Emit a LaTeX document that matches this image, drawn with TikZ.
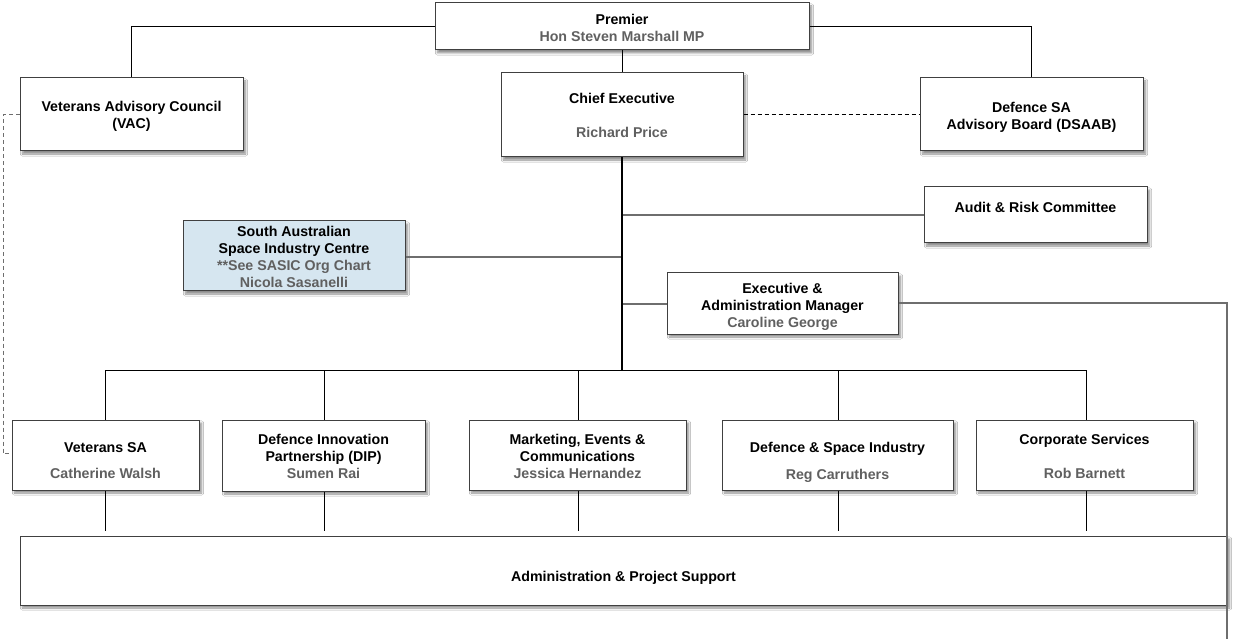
\documentclass[tikz,border=0pt]{standalone}
\usepackage{fontspec}
\setmainfont{Liberation Sans}
\usetikzlibrary{shadows.blur}
\definecolor{bordc}{RGB}{64,64,64}
\definecolor{namec}{RGB}{96,96,96}
\definecolor{linec}{RGB}{110,110,110}
\definecolor{sasicfill}{RGB}{214,230,240}
\begin{document}
\begin{tikzpicture}[x=1pt,y=-1pt,
  box/.style={draw=bordc, line width=1pt, fill=white, inner sep=0pt,
    blur shadow={shadow xshift=2.5pt, shadow yshift=-3pt, shadow blur steps=6, shadow opacity=45}},
  txt/.style={align=center, inner sep=0pt, font=\fontsize{14.2}{17}\selectfont\bfseries},
  conn/.style={line width=1pt, black},
  gconn/.style={line width=1.2pt, linec},
  dconn/.style={line width=1pt, black, dash pattern=on 4pt off 3pt},
  gdconn/.style={line width=1pt, linec, dash pattern=on 4pt off 3pt},
  trunk/.style={line width=2pt, black}]
\newcommand{\nmline}[1]{\strut{\color{namec}#1}}
\useasboundingbox (0,0) rectangle (1243,639);
\fill[white] (0,0) rectangle (1243,639);

% boxes
\node[box, minimum width=374, minimum height=47] (prem) at (622,26.5) {};
\node[box, minimum width=223, minimum height=73] (vac) at (131.5,114.5) {};
\node[box, minimum width=242, minimum height=84] (ce) at (622,115) {};
\node[box, minimum width=223, minimum height=73] (dsaab) at (1031.5,114.5) {};
\node[box, minimum width=223, minimum height=56] (audit) at (1035.5,215) {};
\node[box, fill=sasicfill, minimum width=222, minimum height=70] (sasic) at (294,256) {};
\node[box, minimum width=231, minimum height=61] (exec) at (782.5,303.5) {};
\node[box, minimum width=187, minimum height=70] (vsa) at (105.5,455) {};
\node[box, minimum width=203, minimum height=71] (dip) at (323.5,455.5) {};
\node[box, minimum width=217, minimum height=70] (mkt) at (577.5,455) {};
\node[box, minimum width=231, minimum height=70] (dsi) at (837.5,455) {};
\node[box, minimum width=217, minimum height=70] (corp) at (1084.5,455) {};
\node[box, minimum width=1207, minimum height=69] (aps) at (623.5,570.5) {};

% texts
\node[txt] (prem-t) at ([yshift=-2.7pt]prem.center)
  {\strut Premier\\\nmline{Hon Steven Marshall MP}};
\node[txt] (vac-t) at ([yshift=-1.7pt]vac.center)
  {\strut Veterans Advisory Council\\\strut(VAC)};
\node[txt] (ce-t) at ([yshift=-1.7pt]ce.center)
  {\strut Chief Executive\\[17pt]\nmline{Richard Price}};
\node[txt] (dsaab-t) at ([yshift=-2.7pt]dsaab.center)
  {\strut Defence SA\\\strut Advisory Board (DSAAB)};
\node[txt] (audit-t) at ([yshift=6.3pt]audit.center)
  {\strut Audit \& Risk Committee};
\node[txt] (sasic-t) at ([yshift=-2.2pt]sasic.center)
  {\strut South Australian\\\strut Space Industry Centre\\\nmline{**See SASIC Org Chart}\\\nmline{Nicola Sasanelli}};
\node[txt] (exec-t) at ([yshift=-3.2pt]exec.center)
  {\strut Executive \&\\\strut Administration Manager\\\nmline{Caroline George}};
\node[txt] (vsa-t) at ([yshift=-6.7pt]vsa.center)
  {\strut Veterans SA\\[9pt]\nmline{Catherine Walsh}};
\node[txt] (dip-t) at ([yshift=-2.2pt]dip.center)
  {\strut Defence Innovation\\\strut Partnership (DIP)\\\nmline{Sumen Rai}};
\node[txt] (mkt-t) at ([yshift=-2.7pt]mkt.center)
  {\strut Marketing, Events \&\\\strut Communications\\\nmline{Jessica Hernandez}};
\node[txt] (dsi-t) at ([yshift=-7.2pt]dsi.center)
  {\strut Defence \& Space Industry\\[10pt]\nmline{Reg Carruthers}};
\node[txt] (corp-t) at ([yshift=-2.7pt]corp.center)
  {\strut Corporate Services\\[17pt]\nmline{Rob Barnett}};
\node[txt] (aps-t) at ([yshift=-7.2pt]aps.center)
  {\strut Administration \& Project Support};

% coordinates
\coordinate (pl) at (131,27);
\coordinate (pr) at (1031,27);
\coordinate (vl) at (3,115);
\coordinate (vb) at (3,453);
\coordinate (tbot) at (622,370);
\coordinate (busl) at (105,370);
\coordinate (busr) at (1086,370);
\coordinate (er) at (1227,303);
\coordinate (eb) at (1227,639);

% connectors
\draw[conn] (prem.west |- pl) -- (pl) -- (vac.north -| pl);
\draw[conn] (prem.east |- pr) -- (pr) -- (dsaab.north -| pr);
\draw[conn] (prem.south) -- (ce.north);
\draw[dconn] (ce.east |- 0,115) -- (dsaab.west |- 0,115);
\draw[gdconn] (vac.west |- vl) -- (vl) -- (vb) -- (vsa.west |- vb);
\draw[gconn] (622,215) -- (audit.west |- 0,215);
\draw[gconn] (622,257) -- (sasic.east |- 0,257);
\draw[gconn] (622,304) -- (exec.west |- 0,304);
\draw[conn] (busl) -- (busr);
\draw[trunk] (ce.south) -- (tbot);
\foreach \n/\x in {vsa/105, dip/324, mkt/578, dsi/838, corp/1086}{
  \draw[conn] (\x,370) -- (\n.north -| \x,0);
  \draw[conn] (\n.south -| \x,0) -- (\x,531);
}
\draw[gconn] (exec.east |- er) -- (er) -- (eb);
\end{tikzpicture}
\end{document}
